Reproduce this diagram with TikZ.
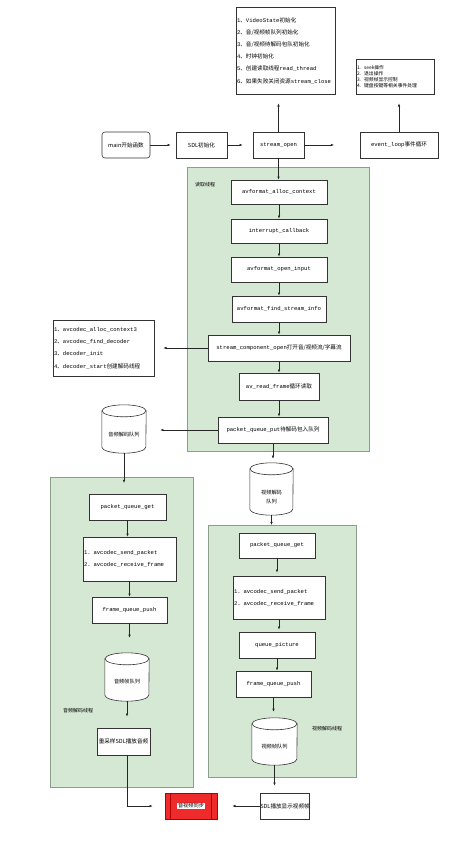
\documentclass[tikz,border=0pt]{standalone}
\usepackage{fontspec}
\setmainfont{Noto Sans CJK SC}
\setmonofont{Liberation Mono}
\usetikzlibrary{arrows.meta,calc}
\definecolor{panelfill}{HTML}{D5E8D4}
\definecolor{panelline}{HTML}{8A9E8A}
\definecolor{syncred}{HTML}{EE2A2A}
\definecolor{syncline}{HTML}{B20000}
\setlength{\fboxsep}{0.6pt}
\newcommand\mtt[1]{{\ttfamily #1}}
\tikzset{
  fbox/.style={draw=black!80, fill=white, line width=0.6pt, inner sep=1pt,
    font=\fontsize{5.6}{7}\selectfont, align=center},
  listbox/.style={fbox, align=left, font=\fontsize{5.6}{12.2}\selectfont},
  panel/.style={draw=panelline, fill=panelfill, line width=0.7pt, inner sep=0pt, anchor=north west},
  arr/.style={draw=black!85, line width=0.6pt, -{Latex[length=3.2pt,width=2.6pt]}},
  lbl/.style={font=\fontsize{5}{6}\selectfont, inner sep=0pt, anchor=west},
  cylst/.style={draw=black!80, fill=white, line width=0.6pt},
  cyltext/.style={font=\fontsize{5.2}{9}\selectfont, align=center, inner sep=0pt},
}
\newcommand\drum[7]{%
  \node[minimum width=#4pt, minimum height=#5pt, inner sep=0pt] (#1) at (#2,#3) {};
  \draw[cylst] ([yshift=-6pt]#1.north west) -- ([yshift=6pt]#1.south west)
     arc[start angle=180, end angle=360, x radius=#4pt/2, y radius=6pt]
     -- ([yshift=-6pt]#1.north east) -- cycle;
  \draw[cylst] ([yshift=-6pt]#1.north) ellipse[x radius=#4pt/2, y radius=6pt];
  \node[cyltext] (#1-t) at ([yshift=-#6pt]#1.center) {#7};
}
\begin{document}
\begin{tikzpicture}[x=1pt,y=-1pt]
\useasboundingbox (0,0) rectangle (474,863);

% panels
\node[panel, minimum width=182pt, minimum height=284pt] (readp) at (187,167) {};
\node[panel, minimum width=143pt, minimum height=310pt] (audp) at (50,477) {};
\node[panel, minimum width=148pt, minimum height=252pt] (vidp) at (208,525) {};
\node[lbl] (readlbl) at (195,185) {读取线程};
\node[lbl] (audlbl) at (63,711) {音频解码线程};
\node[lbl] (vidlbl) at (312,729) {视频解码线程};

% top row
\node[fbox, rounded corners=3pt, minimum width=48pt, minimum height=26pt] (main) at (126,145) {main开始函数};
\node[fbox, minimum width=51pt, minimum height=26pt] (sdl) at (201.5,145) {SDL初始化};
\node[fbox, minimum width=51pt, minimum height=26pt] (so) at (278.5,145) {\mtt{stream\_open}};
\node[fbox, minimum width=78pt, minimum height=26pt] (ev) at (399,145) {\mtt{event\_loop}事件循环};
\coordinate (soR) at (334,145);

\node[listbox, minimum width=99pt, minimum height=87pt, text width=97pt] (initbox) at (285.5,50.5)
 {\mtt{1}、\mtt{VideoState}初始化\\
  \mtt{2}、音/视频帧队列初始化\\
  \mtt{3}、音/视频待解码包队初始化\\
  \mtt{4}、时钟初始化\\
  \mtt{5}、创建读取线程\mtt{read\_thread}\\
  \mtt{6}、如果失败关闭资源\mtt{stream\_close}};
\node[fbox, align=left, font=\fontsize{4.8}{5.8}\selectfont, minimum width=78pt, minimum height=35pt, text width=76pt] (evbox) at (395,76.5)
 {1.\ \ seek操作\\
  2.\ \ 退出操作\\
  3.\ \ 视频帧显示控制\\
  4.\ \ 键盘按键等相关事件处理};

% read thread
\node[fbox, minimum width=96pt, minimum height=24pt] (alloc) at (279,192) {\mtt{avformat\_alloc\_context}};
\node[fbox, minimum width=96pt, minimum height=24pt] (intr) at (279,231) {\mtt{interrupt\_callback}};
\node[fbox, minimum width=96pt, minimum height=25pt] (openin) at (279,269.5) {\mtt{avformat\_open\_input}};
\node[fbox, minimum width=94pt, minimum height=26pt] (find) at (279,309) {\mtt{avformat\_find\_stream\_info}};
\node[fbox, minimum width=142pt, minimum height=26pt] (sco) at (279,348) {\mtt{stream\_component\_open}打开音/视频流/字幕流};
\node[fbox, minimum width=80pt, minimum height=27pt] (avr) at (279,386.5) {\mtt{av\_read\_frame}循环读取};
\node[fbox, minimum width=110pt, minimum height=26pt] (pqp) at (273,430) {\mtt{packet\_queue\_put}待解码包入队列};

\node[listbox, minimum width=101pt, minimum height=56pt, text width=99pt] (dec) at (103.5,348)
 {\mtt{1}、\mtt{avcodec\_alloc\_context3}\\
  \mtt{2}、\mtt{avcodec\_find\_decoder}\\
  \mtt{3}、\mtt{decoder\_init}\\
  \mtt{4}、\mtt{decoder\_start}创建解码线程};

\drum{aq}{124}{429}{44}{48}{6}{音频解码队列}
\drum{vq}{271.5}{489}{43}{52}{8}{视频解码\\队列}

% audio thread
\node[fbox, minimum width=77pt, minimum height=26pt] (apqg) at (127.5,507) {\mtt{packet\_queue\_get}};
\node[listbox, minimum width=93pt, minimum height=44pt, text width=91pt] (adec) at (129.5,559)
 {\mtt{1. avcodec\_send\_packet}\\ \mtt{2. avcodec\_receive\_frame}};
\node[fbox, minimum width=75pt, minimum height=26pt] (afqp) at (129.5,610) {\mtt{frame\_queue\_push}};
\drum{acyl}{127}{677}{44}{48}{5}{音频帧队列}
\node[fbox, minimum width=53pt, minimum height=27pt] (ares) at (123.5,741.5) {重采样SDL播放音频};

% video thread
\node[fbox, minimum width=76pt, minimum height=25pt] (vpqg) at (277,545.5) {\mtt{packet\_queue\_get}};
\node[listbox, minimum width=92pt, minimum height=43pt, text width=90pt] (vdec) at (279,597.5)
 {\mtt{1. avcodec\_send\_packet}\\ \mtt{2. avcodec\_receive\_frame}};
\node[fbox, minimum width=76pt, minimum height=26pt] (vqp) at (277,645) {\mtt{queue\_picture}};
\node[fbox, minimum width=75pt, minimum height=26pt] (vfqp) at (273.5,684) {\mtt{frame\_queue\_push}};
\drum{vcyl}{274.5}{741.5}{45}{47}{5}{视频帧队列}
\node[fbox, minimum width=48pt, minimum height=26pt, inner sep=0pt] (sdlv) at (285,806) {SDL播放显示视频帧};

% sync
\node[draw=syncline, fill=syncred, line width=0.6pt, minimum width=52pt, minimum height=26pt, inner sep=0pt,
  font=\fontsize{5.2}{6}\selectfont] (sync) at (191,806) {\colorbox{white}{音视频同步}};
\draw[draw=syncline, line width=0.6pt] ([xshift=6pt]sync.north west) -- ([xshift=6pt]sync.south west);
\draw[draw=syncline, line width=0.6pt] ([xshift=-6pt]sync.north east) -- ([xshift=-6pt]sync.south east);

% connectors
\draw[arr, shorten >=5pt] (main) -- (sdl);
\draw[arr, shorten >=10pt] (sdl) -- (so);
\draw[arr] (so) -- (soR);
\draw[arr, shorten >=9pt] (so.north) -- (so.north |- initbox.south);
\draw[arr, shorten >=9pt] (ev.north) -- (ev.north |- evbox.south);
\draw[arr] (so.south) -- (so.south |- alloc.north);
\draw[arr] (alloc) -- (intr);
\draw[arr] (intr) -- (openin);
\draw[arr] (openin) -- (find);
\draw[arr] (find) -- (sco);
\draw[arr] (sco) -- (avr);
\draw[arr] (avr.south) -- (avr.south |- pqp.north);
\draw[arr, shorten >=9pt] (sco.west) -- (sco.west -| dec.east);
\draw[arr, shorten >=14pt] (pqp.west) -- (pqp.west -| aq.east);
\draw[arr, shorten >=4pt] (pqp.south) -- (pqp.south |- vq.north);
\draw[arr, shorten >=-6pt] (aq.south) -- (aq.south |- audp.north);
\draw[arr] (vq.south) -- (vq.south |- vidp.north);

\draw[arr] (apqg.south) -- (apqg.south |- adec.north);
\draw[arr] (adec) -- (afqp);
\draw[arr, shorten >=15pt] (afqp.south) -- (afqp.south |- acyl.north);
\draw[arr, shorten >=11pt] (acyl.south) -- (acyl.south |- ares.north);
\draw[arr, shorten >=12pt] (acyl.south |- ares.south) |- (sync.west);

\draw[arr, shorten >=3pt] (vpqg.south) -- (vpqg.south |- vdec.north);
\draw[arr, shorten >=2pt] (vdec.south) -- (vdec.south |- vqp.north);
\draw[arr] (vqp.south) -- (vqp.south |- vfqp.north);
\draw[arr, shorten >=6pt] (vfqp.south) -- (vfqp.south |- vcyl.north);
\draw[arr, shorten >=7pt] (vcyl.south) -- (vcyl.south |- sdlv.north);
\draw[arr, shorten >=15pt] (sdlv.west) -- (sync.east);
\end{tikzpicture}
\end{document}
